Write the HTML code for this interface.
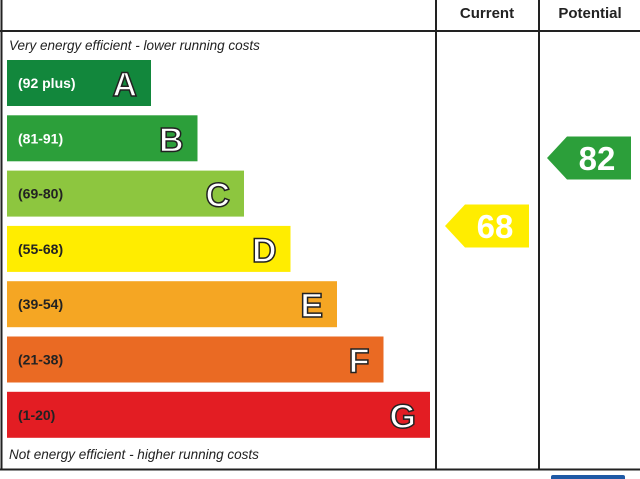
<!DOCTYPE html>
<html><head><meta charset="utf-8"><style>
body{margin:0;width:640px;height:479px;background:#fff;overflow:hidden;font-family:"Liberation Sans",sans-serif}
svg{display:block}
</style></head><body>
<svg id="c" width="640" height="479" xmlns="http://www.w3.org/2000/svg">
<g stroke="#222" stroke-width="2" fill="none">
<line x1="1.5" y1="0" x2="1.5" y2="470"/>
<line x1="436" y1="0" x2="436" y2="470"/>
<line x1="539" y1="0" x2="539" y2="470"/>
<line x1="0" y1="31" x2="640" y2="31"/>
<line x1="0" y1="469.5" x2="640" y2="469.5"/>
</g>
<text x="487" y="18" text-anchor="middle" font-size="15" font-weight="bold" fill="#222">Current</text>
<text x="590" y="18" text-anchor="middle" font-size="15" font-weight="bold" fill="#222">Potential</text>
<text x="9" y="50" font-size="13.5" font-style="italic" fill="#222">Very energy efficient - lower running costs</text>
<text x="9" y="459" font-size="13.5" font-style="italic" fill="#222">Not energy efficient - higher running costs</text>
<rect x="551" y="475" width="74" height="6" rx="2" fill="#1f5aa6"/>
<g id="bands"></g>
<g id="arrows"></g>
</svg>
<script>
const bandLetters=["A","B","C","D","E","F","G"];
const bandRanges=["(92 plus)","(81-91)","(69-80)","(55-68)","(39-54)","(21-38)","(1-20)"];
const currentRating=[68];
const potentialRating=[82];
const colors=["#12873c","#2c9f3a","#8dc63f","#ffed00","#f5a623","#ea6a23","#e31d23"];
const ns="http://www.w3.org/2000/svg";
const bg=document.getElementById('bands'),ag=document.getElementById('arrows');
function mk(t,a,p){const e=document.createElementNS(ns,t);for(const k in a)e.setAttribute(k,a[k]);p.appendChild(e);return e;}
function bandY(i){return 60+i*55.3;}
function bandW(i){return 144+i*46.5;}
bandLetters.forEach((L,i)=>{
 const g=mk('g',{},bg);
 
 
 mk('rect',{x:7,y:bandY(i),width:bandW(i),height:46,fill:colors[i]},g);
 const t=mk('text',{x:18,y:bandY(i)+28,'font-size':14,'font-weight':'bold',fill:i<2?'#fff':'#222'},g);t.textContent=bandRanges[i];
 
 
 const l=mk('text',{x:7+bandW(i)-14,y:bandY(i)+36,'text-anchor':'end','font-size':34,'font-weight':'bold',fill:'#fff',stroke:'#222','stroke-width':1.5},g);l.textContent=L;
 
 
});
function valY(v){return 226+(68-v)*4.857;}
function colorFor(v){const mins=[92,81,69,55,39,21,1];for(let i=0;i<7;i++)if(v>=mins[i])return colors[i];return colors[6];}
function arrow(v,x0,name){
 const cy=valY(v),h=43,w=84,x1=x0+w;
 const g=mk('g',{},ag);
 
 
 mk('polygon',{points:`${x0},${cy} ${x0+20},${cy-h/2} ${x1},${cy-h/2} ${x1},${cy+h/2} ${x0+20},${cy+h/2}`,fill:colorFor(v)},g);
 const t=mk('text',{x:x0+50,y:cy+12,'text-anchor':'middle','font-size':33,'font-weight':'bold',fill:'#fff'},g);t.textContent=v;
 
 
}
arrow(currentRating[0],445,'current-rating-arrow');
arrow(potentialRating[0],547,'potential-rating-arrow');
</script>
</body></html>
